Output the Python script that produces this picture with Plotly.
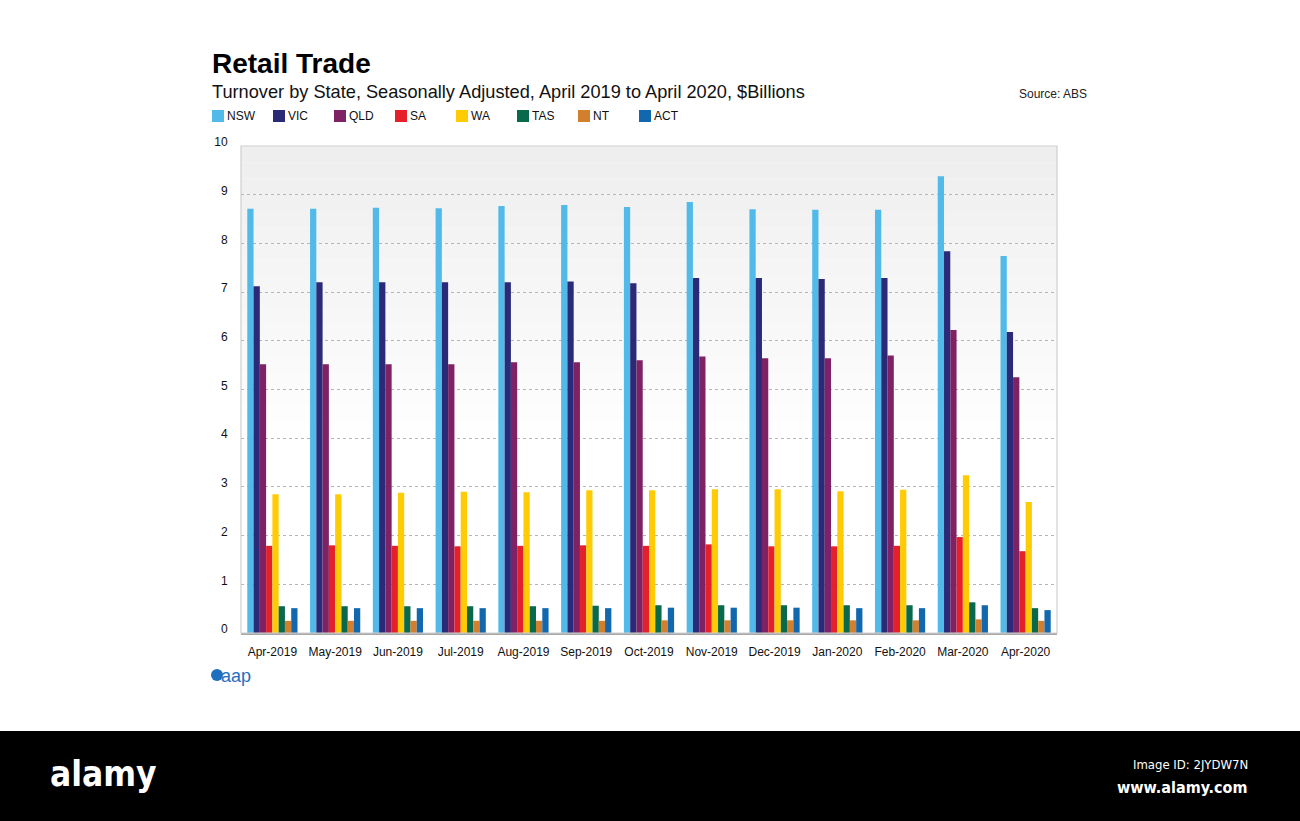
import plotly.graph_objects as go

months = ["Apr-2019", "May-2019", "Jun-2019", "Jul-2019", "Aug-2019", "Sep-2019", "Oct-2019",
          "Nov-2019", "Dec-2019", "Jan-2020", "Feb-2020", "Mar-2020", "Apr-2020"]
states = ["NSW", "VIC", "QLD", "SA", "WA", "TAS", "NT", "ACT"]

nsw = [8.71, 8.71, 8.73, 8.72, 8.77, 8.79, 8.75, 8.85, 8.70, 8.69, 8.69, 9.38, 7.74]
vic = [7.12, 7.20, 7.20, 7.20, 7.20, 7.22, 7.18, 7.29, 7.29, 7.27, 7.29, 7.84, 6.18]
qld = [5.52, 5.52, 5.52, 5.52, 5.56, 5.56, 5.60, 5.68, 5.64, 5.64, 5.70, 6.22, 5.25]
sa  = [1.79, 1.80, 1.79, 1.78, 1.79, 1.80, 1.79, 1.82, 1.78, 1.78, 1.79, 1.97, 1.68]
wa  = [2.85, 2.85, 2.88, 2.90, 2.89, 2.93, 2.93, 2.95, 2.95, 2.91, 2.94, 3.24, 2.69]
tas = [0.55, 0.55, 0.55, 0.55, 0.55, 0.56, 0.57, 0.57, 0.57, 0.57, 0.57, 0.63, 0.51]
nt  = [0.25, 0.25, 0.25, 0.25, 0.25, 0.25, 0.26, 0.26, 0.26, 0.26, 0.26, 0.28, 0.25]
act = [0.51, 0.51, 0.51, 0.51, 0.51, 0.51, 0.52, 0.52, 0.52, 0.51, 0.51, 0.57, 0.47]
series = [nsw, vic, qld, sa, wa, tas, nt, act]

y_ticks = [0, 1, 2, 3, 4, 5, 6, 7, 8, 9, 10]

colors = ["#52BAE9", "#2B2A78", "#7E2265", "#E5202B", "#FFCB05", "#09694C", "#D27F2E", "#1268AF"]

W, H = 1300, 821
L, R, T, B = 241, 1057, 146, 633


def px(x):
    return (x - L) / (R - L)


def py(y):
    return (B - y) / (B - T)


FONT = "Liberation Sans, Arial, Helvetica, sans-serif"
NARROW = "Liberation Sans Narrow, DejaVu Sans Condensed, Liberation Sans, sans-serif"

fig = go.Figure()
for name, vals, col in zip(states, series, colors):
    fig.add_trace(go.Bar(x=months, y=vals, name=name, marker=dict(color=col, line=dict(width=0)),
                         showlegend=False))

shapes = []
# gradient background of plot area
n = 30
for i in range(n):
    f = i / n
    g = int(round(238 + (255 - 238) * min(1.0, f / 0.6)))
    shapes.append(dict(type="rect", xref="paper", yref="paper", x0=0, x1=1,
                       y0=1 - (i + 1) / n, y1=1 - i / n, layer="below",
                       fillcolor=f"rgb({g},{g},{g})", line=dict(width=0)))
# plot border
shapes.append(dict(type="rect", xref="paper", yref="paper", x0=0, x1=1, y0=0, y1=1,
                   layer="above", line=dict(color="#cfcfcf", width=1.2)))
# manual legend swatches
annotations = []
for i, (name, col) in enumerate(zip(states, colors)):
    x0 = 212 + i * 61
    shapes.append(dict(type="rect", xref="paper", yref="paper",
                       x0=px(x0), x1=px(x0 + 12), y0=py(122), y1=py(110),
                       fillcolor=col, line=dict(width=0)))
    annotations.append(dict(xref="paper", yref="paper", x=px(x0 + 13), y=py(116.5),
                            xanchor="left", yanchor="middle", showarrow=False, text=name,
                            font=dict(family=FONT, size=12, color="#111")))
# aap logo dot
shapes.append(dict(type="circle", xref="paper", yref="paper",
                   x0=px(211), x1=px(223), y0=py(681), y1=py(669),
                   fillcolor="#1f6fc1", line=dict(width=0)))
# bottom black band
shapes.append(dict(type="rect", xref="paper", yref="paper", x0=px(0), x1=px(W),
                   y0=py(821), y1=py(731), fillcolor="#000000", line=dict(width=0)))

annotations += [
    dict(xref="paper", yref="paper", x=px(210), y=py(63), xanchor="left", yanchor="middle",
         showarrow=False, text="Retail Trade",
         font=dict(family=FONT, size=28, color="#000", weight="bold")),
    dict(xref="paper", yref="paper", x=px(210), y=py(92), xanchor="left", yanchor="middle",
         showarrow=False, text="Turnover by State, Seasonally Adjusted, April 2019 to April 2020, $Billions",
         font=dict(family=FONT, size=18.2, color="#111")),
    dict(xref="paper", yref="paper", x=px(1089), y=py(94), xanchor="right", yanchor="middle",
         showarrow=False, text="Source: ABS", font=dict(family=FONT, size=12, color="#222")),
    dict(xref="paper", yref="paper", x=px(219), y=py(676), xanchor="left", yanchor="middle",
         showarrow=False, text="aap", font=dict(family=FONT, size=18, color="#1f6fc1")),
    dict(xref="paper", yref="paper", x=px(48), y=py(774), xanchor="left", yanchor="middle",
         showarrow=False, text="<b>alamy</b>",
         font=dict(family=NARROW, size=35, color="#fff")),
    dict(xref="paper", yref="paper", x=px(1250), y=py(764), xanchor="right", yanchor="middle",
         showarrow=False, text="Image ID: 2JYDW7N",
         font=dict(family=NARROW, size=13, color="#fff")),
    dict(xref="paper", yref="paper", x=px(1250), y=py(787), xanchor="right", yanchor="middle",
         showarrow=False, text="<b>www.alamy.com</b>",
         font=dict(family=NARROW, size=16, color="#fff")),
]

fig.update_layout(
    width=W, height=H,
    margin=dict(l=L, r=W - R, t=T, b=H - B, pad=0),
    paper_bgcolor="#ffffff", plot_bgcolor="rgba(0,0,0,0)",
    barmode="group", bargap=0.2, bargroupgap=0.0,
    font=dict(family=FONT, size=12, color="#111"),
    shapes=shapes, annotations=annotations,
    showlegend=False,
)
fig.update_xaxes(showgrid=False, showline=True, linecolor="#a8a8a8", linewidth=1.5,
                 ticks="outside", ticklen=7, tickcolor="rgba(0,0,0,0)",
                 tickfont=dict(family=FONT, size=12, color="#111"), fixedrange=True)
fig.update_yaxes(range=[0, 10], tickvals=y_ticks, showgrid=True, gridcolor="#b5b5b5",
                 griddash="dot", gridwidth=1, zeroline=False, showline=False,
                 ticks="outside", ticklen=10, tickcolor="rgba(0,0,0,0)", ticklabelshift=-4,
                 tickfont=dict(family=FONT, size=12, color="#111"), fixedrange=True)

fig.write_html("out.html")
